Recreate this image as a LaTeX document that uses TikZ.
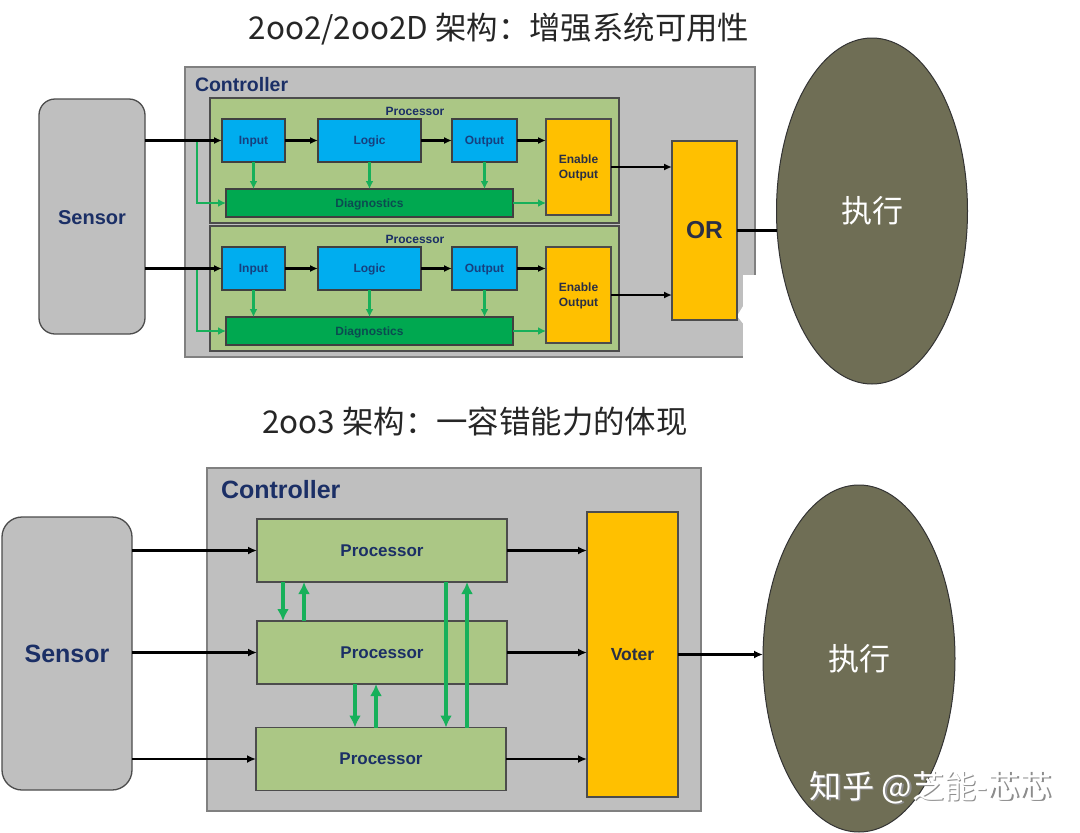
\documentclass[tikz,border=0pt]{standalone}
\usepackage{fontspec}
\setmainfont{Liberation Sans}
\newfontfamily\cjk{Noto Sans CJK SC}
\usetikzlibrary{shapes,arrows,arrows.meta,positioning}
\definecolor{navy}{HTML}{1B2F66}
\definecolor{ctrlgrey}{HTML}{BFBFBF}
\definecolor{procgreen}{HTML}{ABC785}
\definecolor{inblue}{HTML}{00ADEF}
\definecolor{intext}{HTML}{17407F}
\definecolor{diaggreen}{HTML}{00A850}
\definecolor{diagtext}{HTML}{0B4B50}
\definecolor{linkgreen}{HTML}{17B05A}
\definecolor{gold}{HTML}{FFC000}
\definecolor{goldtext}{HTML}{2A2F45}
\definecolor{olive}{HTML}{6F6E55}
\newcommand{\fsize}[1]{\fontsize{#1}{#1}\selectfont}
\tikzstyle{box}=[rectangle, draw=black!75, line width=1.3pt, inner sep=0pt, outer sep=0pt, align=center, font=\bfseries, text=navy]
\tikzstyle{ctrl}=[box, draw=black!50, fill=ctrlgrey, line width=1.6pt]
\tikzstyle{proc}=[box, draw=black!70, fill=procgreen]
\tikzstyle{block}=[box, fill=inblue, minimum height=43pt, text depth=0pt, text=intext, font=\bfseries\fsize{12}]
\tikzstyle{diag}=[box, fill=diaggreen, minimum width=287pt, minimum height=28pt, text depth=0pt, text=diagtext, font=\bfseries\fsize{12}]
\tikzstyle{gate}=[box, draw=black!70, fill=gold, text=goldtext]
\tikzstyle{sensor}=[box, draw=black!70, fill=ctrlgrey, rounded corners=16pt]
\tikzstyle{plant}=[ellipse, draw=black!80, line width=1pt, fill=olive, inner sep=0pt, outer sep=0pt, text=white, font=\cjk\fsize{31}]
\tikzstyle{title}=[font=\cjk\fsize{31.4}, text=black!85, inner sep=0pt]
\tikzstyle{wire}=[->, >={Latex[length=8pt,width=7pt]}, line width=2.2pt]
\tikzstyle{bigwire}=[wire, line width=2.6pt, >={Latex[length=9pt,width=8pt]}]
\tikzstyle{link}=[->, >={Latex[length=8pt,width=8pt]}, line width=2.4pt, color=linkgreen]
\tikzstyle{biglink}=[->, >={Latex[length=12pt,width=12pt]}, line width=3.2pt, color=linkgreen]
\begin{document}
\begin{tikzpicture}[x=1pt, y=-1pt]
    \useasboundingbox (0,0) rectangle (1080,833);
    \fill[white] (0,0) rectangle (1080,833);

    % upper picture
    \node (titleA) [title] at (499,29) {2oo2/2oo2D 架构：增强系统可用性};
    \node (ctrlA) [ctrl, minimum width=570pt, minimum height=290pt] at (470,212) {};
    \node (ctrlAt) [box, draw=none, font=\bfseries\fsize{19.5}, anchor=west] at (195,85) {Controller};
    \fill[white] (743,275) rectangle (757,359);
    \fill[white] (737,316) -- (745,303) -- (745,326) -- cycle;

    \node (procA) [proc, minimum width=409pt, minimum height=125pt] at (414.5,160.5) {};
    \node (procB) [proc, minimum width=409pt, minimum height=125pt, below=3pt of procA] {};
    \node (ptA) [box, draw=none, font=\bfseries\fsize{12}] at (415,111) {Processor};
    \node (ptB) [box, draw=none, font=\bfseries\fsize{12}] at (415,239) {Processor};

    \node (inA) [block, minimum width=63pt] at (253.5,140.5) {Input};
    \node (logicA) [block, minimum width=103pt, right=33pt of inA] {Logic};
    \node (outA) [block, minimum width=65pt, right=31pt of logicA] {Output};
    \node (diagA) [diag, below=27pt of logicA] {Diagnostics};
    \node (enA) [gate, minimum width=65pt, minimum height=96pt, text depth=0pt, font=\bfseries\fsize{12}] at (578.5,167) {Enable\\[3pt]Output};

    \node (inB) [block, minimum width=63pt, below=85pt of inA] {Input};
    \node (logicB) [block, minimum width=103pt, right=33pt of inB] {Logic};
    \node (outB) [block, minimum width=65pt, right=31pt of logicB] {Output};
    \node (diagB) [diag, below=27pt of logicB] {Diagnostics};
    \node (enB) [gate, minimum width=65pt, minimum height=96pt, text depth=0pt, font=\bfseries\fsize{12}, below=32pt of enA] {Enable\\[3pt]Output};

    \node (orgate) [gate, minimum width=65pt, minimum height=179pt, font=\bfseries\fsize{24.5}] at (704.5,230.5) {OR};
    \node (sensA) [sensor, minimum width=106pt, minimum height=235pt, text height=17pt, font=\bfseries\fsize{20}] at (92,216.5) {Sensor};
    \node (execA) [plant, minimum width=191pt, minimum height=346pt] at (872,211) {执行};

    \coordinate (tapA) at (197,141);
    \coordinate (tapB) at (197,269);

    \draw[link] (tapA) |- (diagA.west);
    \draw[link] (tapB) |- (diagB.west);
    \path[wire] (sensA.east |- inA.west) edge (inA.west);
    \path[wire] (sensA.east |- inB.west) edge (inB.west);
    \path[wire] (inA) edge (logicA);
    \path[wire] (logicA) edge (outA);
    \path[wire] (outA.east) edge (outA.east -| enA.west);
    \path[wire] (inB) edge (logicB);
    \path[wire] (logicB) edge (outB);
    \path[wire] (outB.east) edge (outB.east -| enB.west);
    \path[wire] (enA.east) edge (enA.east -| orgate.west);
    \path[wire] (enB.east) edge (enB.east -| orgate.west);
    \draw[line width=2.4pt] (orgate.east) -- (orgate.east -| execA.west);
    \foreach \blk in {inA, logicA, outA}
        \path[link] (\blk.south) edge (\blk.south |- diagA.north);
    \foreach \blk in {inB, logicB, outB}
        \path[link] (\blk.south) edge (\blk.south |- diagB.north);
    \path[link] (diagA.east) edge (diagA.east -| enA.west);
    \path[link] (diagB.east) edge (diagB.east -| enB.west);

    % lower picture
    \node (titleB) [title] at (475,422) {2oo3 架构：一容错能力的体现};
    \node (ctrlC) [ctrl, minimum width=494pt, minimum height=343pt] at (454,639.5) {};
    \node (ctrlCt) [box, draw=none, font=\bfseries\fsize{25}, anchor=west] at (221,490) {Controller};

    \node (pOne) [proc, minimum width=250pt, minimum height=63pt, font=\bfseries\fsize{17}] at (382,550.5) {Processor};
    \node (pTwo) [proc, minimum width=250pt, minimum height=63pt, font=\bfseries\fsize{17}, below=39pt of pOne] {Processor};
    \node (pThree) [proc, minimum width=250pt, minimum height=63pt, font=\bfseries\fsize{17}] at (381,759) {Processor};
    \node (voter) [gate, minimum width=91pt, minimum height=285pt, font=\bfseries\fsize{17.5}] at (632.5,654.5) {Voter};
    \node (sensB) [sensor, minimum width=130pt, minimum height=273pt, rounded corners=20pt, font=\bfseries\fsize{25}] at (67,653.5) {Sensor};
    \node (execB) [plant, minimum width=192pt, minimum height=347pt] at (859,658.5) {执行};

    \path[bigwire] (sensB.east |- pOne.west) edge (pOne.west);
    \path[bigwire] (sensB.east |- pTwo.west) edge (pTwo.west);
    \path[bigwire] (sensB.east |- pThree.west) edge (pThree.west);
    \path[bigwire] (pOne.east) edge (pOne.east -| voter.west);
    \path[bigwire] (pTwo.east) edge (pTwo.east -| voter.west);
    \path[bigwire] (pThree.east) edge (pThree.east -| voter.west);
    \path[bigwire] (voter.east) edge (voter.east -| execB.west);

    \path[biglink] ([xshift=-99pt]pOne.south) edge ([xshift=-99pt]pTwo.north);
    \path[biglink] ([xshift=-78pt]pTwo.north) edge ([xshift=-78pt]pOne.south);
    \path[biglink] ([xshift=-27pt]pTwo.south) edge ([xshift=-26pt]pThree.north);
    \path[biglink] ([xshift=-5pt]pThree.north) edge ([xshift=-6pt]pTwo.south);
    \path[biglink] ([xshift=64pt]pOne.south) edge ([xshift=65pt]pThree.north);
    \path[biglink] ([xshift=86pt]pThree.north) edge ([xshift=85pt]pOne.south);

    % mark in the corner
    \node (markShade) [font=\cjk\fsize{32.2}, text=black!45, inner sep=0pt] at (932.5,789) {知乎 @芝能-芯芯};
    \node (mark) [font=\cjk\fsize{32.2}, text=white, inner sep=0pt] at (931,787.5) {知乎 @芝能-芯芯};
\end{tikzpicture}
\end{document}
